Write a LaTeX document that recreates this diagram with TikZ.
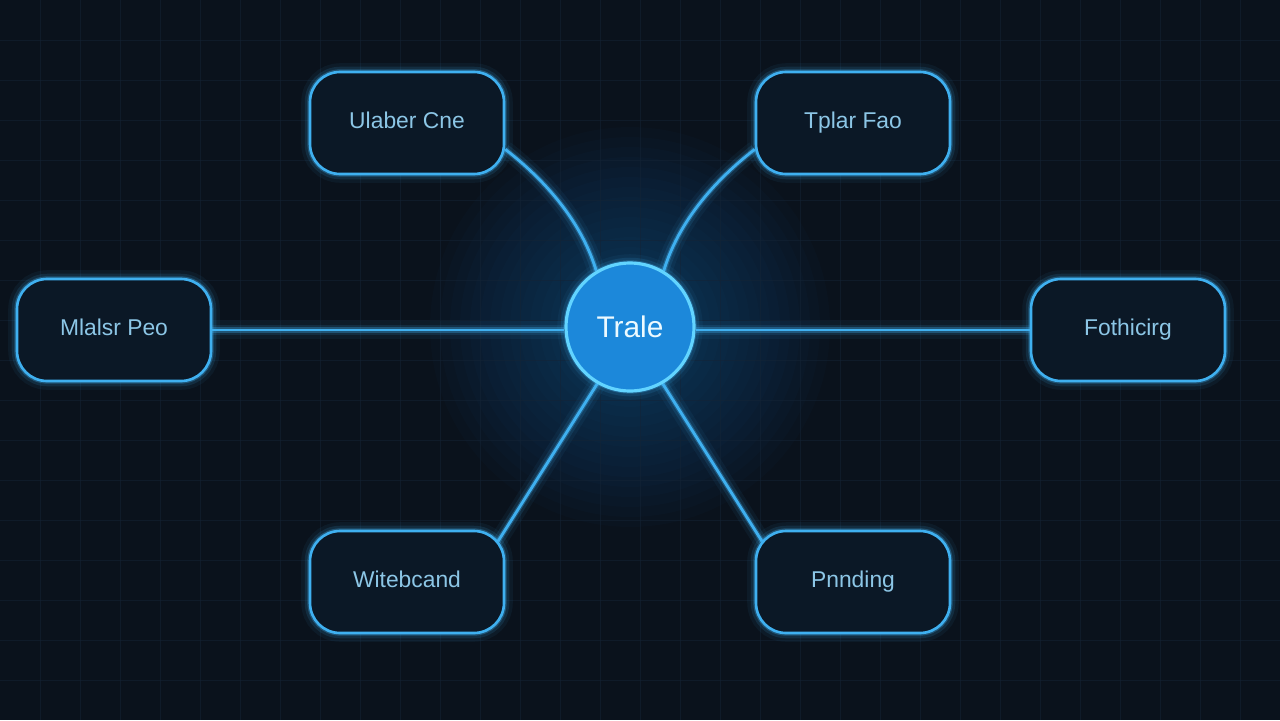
\documentclass[tikz,border=0pt]{standalone}
\usepackage{fontspec}
\setmainfont{Liberation Sans}
\usepackage{tikz}
\usetikzlibrary{
    calc,
    positioning
}
\definecolor{bgdark}{HTML}{0A121C}
\definecolor{gridline}{HTML}{142436}
\definecolor{neon}{HTML}{3FB0F0}
\definecolor{boxfill}{HTML}{0B1826}
\definecolor{hubfill}{HTML}{1C88DA}
\definecolor{hubring}{HTML}{62D4FF}
\definecolor{labeltext}{HTML}{8CC6E6}
\pgfdeclarelayer{back}
\pgfsetlayers{back,main}

\begin{document}
\begin{tikzpicture}[x=0.02cm, y=-0.02cm,
    glow/.style={
        preaction={draw=neon, line width=10pt, opacity=0.06},
        preaction={draw=neon, line width=6pt, opacity=0.12},
        preaction={draw=neon, line width=3pt, opacity=0.3}},
    box/.style={glow, draw=neon, line width=1.5pt, fill=boxfill,
        rounded corners=0.6cm, minimum width=3.88cm, minimum height=2.04cm,
        text height=1.6ex, text depth=0.4ex,
        text=labeltext, font=\fontsize{13}{15}\selectfont},
    hub/.style={glow, circle, draw=hubring, line width=1.8pt, fill=hubfill,
        minimum size=2.56cm, text=white!88!hubring, font=\fontsize{17}{20}\selectfont},
    link/.style={glow, draw=neon, line width=1.6pt}]
    \useasboundingbox (0, 0) rectangle (1280, 720);

    \node[hub] (hub) at (630, 327) {Trale};
    \node[box] (nw) at (407, 123) {Ulaber Cne};
    \node[box] (ne) at (853, 123) {Tplar Fao};
    \node[box] (w) at (114, 330) {Mlalsr Peo};
    \node[box] (e) at (1128, 330) {Fothicirg};
    \node[box] (sw) at (407, 582) {Witebcand};
    \node[box] (se) at (853, 582) {Pnnding};

    \begin{pgfonlayer}{back}
        \fill[bgdark] (0, 0) rectangle (1280, 720);
        \foreach \r in {1.4, 1.6, ..., 4.2} {
            \fill[hubfill, opacity=0.025] (hub) circle (\r cm);
        }
        \foreach \gx in {40, 80, ..., 1240} {
            \draw[gridline, line width=0.4pt, opacity=0.5] (\gx, 0) -- (\gx, 720);
        }
        \foreach \gy in {40, 80, ..., 680} {
            \draw[gridline, line width=0.4pt, opacity=0.5] (0, \gy) -- (1280, \gy);
        }
        \draw[link]
        (w.east) -- (hub.west |- w.east)
        (hub.east |- e.west) -- (e.west);
        \draw[link] (nw.-15) .. controls (555, 188) and (584, 230) .. (hub.121);
        \draw[link] (ne.195) .. controls (705, 188) and (676, 230) .. (hub.59);
        \draw[link] (hub.240) -- ($(hub.240)!1.08!(sw.north east)$);
        \draw[link] (hub.300) -- ($(hub.300)!1.08!(se.north west)$);
    \end{pgfonlayer}
\end{tikzpicture}
\end{document}
